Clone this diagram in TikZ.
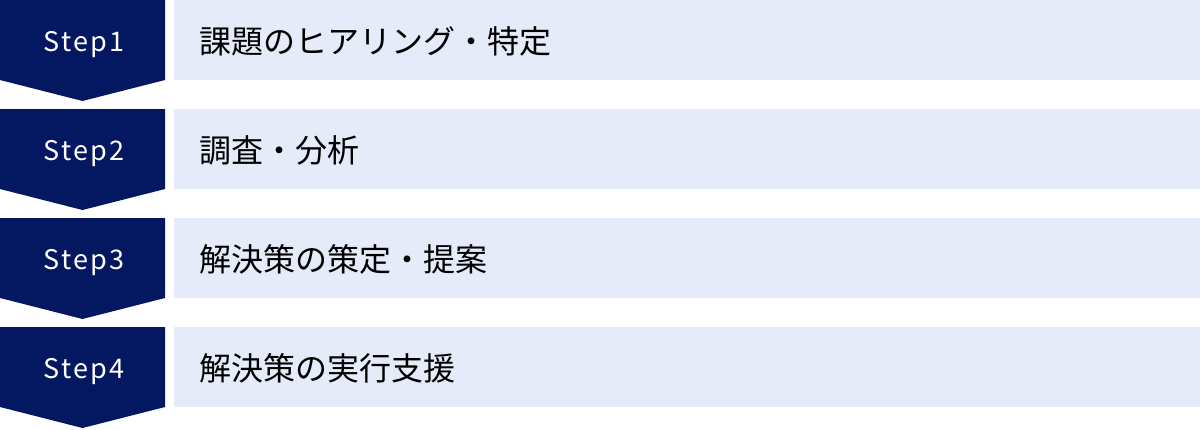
\documentclass[tikz,border=0pt]{standalone}
\usepackage{fontspec}
\setmainfont{Noto Sans CJK JP}
\newfontfamily\stepfont[LetterSpace=9]{Noto Sans CJK JP}
\definecolor{navy}{HTML}{041862}
\definecolor{pale}{HTML}{E5EBF9}
\tikzset{
  x=1pt,y=1pt,
  stepshape/.style={fill=navy,draw=none},
  itembox/.style={fill=pale,draw=none,minimum width=1026pt,minimum height=80pt,anchor=north west,inner sep=0pt},
  steplabel/.style={text=white,font=\stepfont\fontsize{27}{30}\selectfont,inner sep=0pt,anchor=base},
  itemlabel/.style={text=black,font=\fontsize{32}{36}\selectfont,anchor=west,inner sep=0pt}
}
\begin{document}
\begin{tikzpicture}
\useasboundingbox (0,0) rectangle (1200,-429);
\foreach \i/\t/\txt in {1/0/課題のヒアリング・特定,2/109/調査・分析,3/218/解決策の策定・提案,4/327/解決策の実行支援}{
  \fill[stepshape] (0,-\t) -- (165,-\t) -- (165,-\t-80) -- (82.5,-\t-101) -- (0,-\t-80) -- cycle;
  \node[itembox] (box\i) at (174,-\t) {};
  \node[steplabel] (step\i) at (84,-\t-51) {Step\i};
  \node[itemlabel] (item\i) at (199,-\t-41) {\txt};
}
\end{tikzpicture}
\end{document}
